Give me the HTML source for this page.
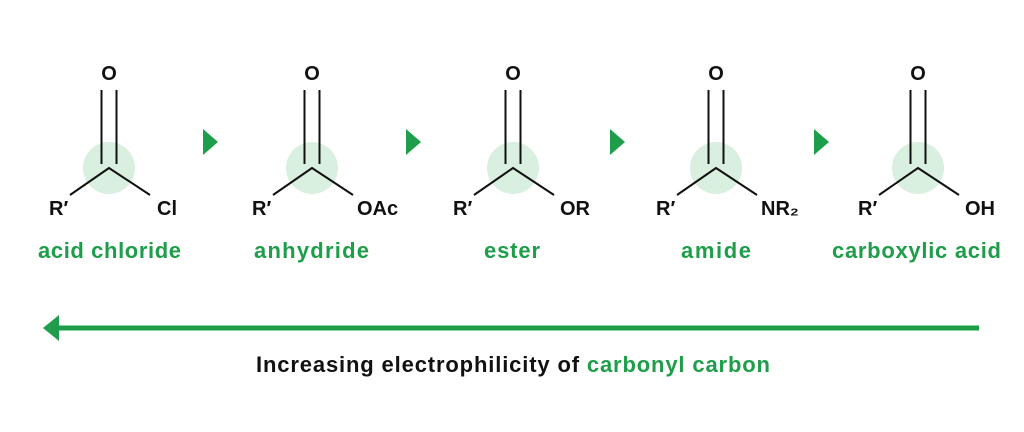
<!DOCTYPE html>
<html><head><style>
body{margin:0;background:#fff;}
svg text{font-family:"Liberation Sans",sans-serif;font-weight:bold;}
</style></head><body>
<svg width="1024" height="427" viewBox="0 0 1024 427" xmlns="http://www.w3.org/2000/svg">
<defs>
<g id="m">
<circle cx="0" cy="0" r="26" fill="#d9efe0"/>
<line x1="-7.5" y1="-78" x2="-7.5" y2="-4" stroke="#111" stroke-width="2"/>
<line x1="7.5" y1="-78" x2="7.5" y2="-4" stroke="#111" stroke-width="2"/>
<polyline points="-39,27 0,0 41,27" fill="none" stroke="#111" stroke-width="2"/>
<text x="0" y="-88" font-size="20" text-anchor="middle" fill="#111">O</text>
<text x="-60" y="47" font-size="20" fill="#111">R′</text>
</g>
</defs>
<g transform="translate(109,168)"><use href="#m"/><text x="48" y="47" font-size="20" fill="#111">Cl</text></g>
<g transform="translate(312,168)"><use href="#m"/><text x="45" y="47" font-size="20" fill="#111">OAc</text></g>
<g transform="translate(513,168)"><use href="#m"/><text x="47" y="47" font-size="20" fill="#111">OR</text></g>
<g transform="translate(716,168)"><use href="#m"/><text x="45" y="47" font-size="20" fill="#111">NR₂</text></g>
<g transform="translate(918,168)"><use href="#m"/><text x="47" y="47" font-size="20" fill="#111">OH</text></g>
<g fill="#1e9e4a" font-size="22">
<text x="38" y="258" textLength="143" lengthAdjust="spacing">acid chloride</text>
<text x="254" y="258" textLength="115" lengthAdjust="spacing">anhydride</text>
<text x="484" y="258" textLength="56" lengthAdjust="spacing">ester</text>
<text x="681" y="258" textLength="70" lengthAdjust="spacing">amide</text>
<text x="832" y="258" textLength="169" lengthAdjust="spacing">carboxylic acid</text>
</g>
<g fill="#1e9e4a">
<polygon points="203,129 218,142 203,155"/>
<polygon points="406,129 421,142 406,155"/>
<polygon points="610,129 625,142 610,155"/>
<polygon points="814,129 829,142 814,155"/>
<rect x="55" y="325.5" width="924" height="5"/>
<polygon points="43,328 59,315 59,341"/>
</g>
<text x="256" y="372" font-size="22" fill="#111" textLength="514" lengthAdjust="spacing">Increasing electrophilicity of <tspan fill="#1e9e4a">carbonyl carbon</tspan></text>
</svg>
</body></html>
